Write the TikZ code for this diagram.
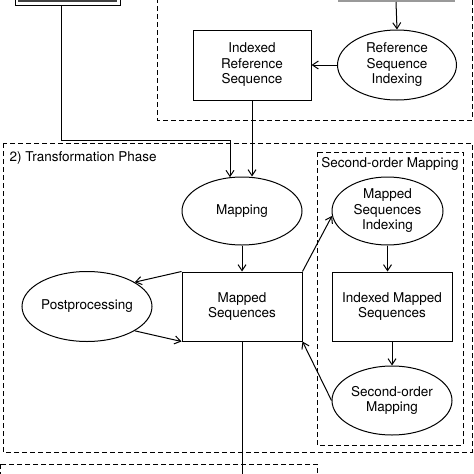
\documentclass[tikz,border=0pt]{standalone}
\usepackage{fontspec}
\setmainfont{TeX Gyre Heros}
\usetikzlibrary{shapes.geometric, arrows.meta, positioning}

\tikzset{
  proc/.style={ellipse, draw, line width=1pt, inner sep=0pt, align=center},
  data/.style={rectangle, draw, line width=1pt, inner sep=0pt, align=center},
  phase/.style={draw, line width=1pt, dash pattern=on 5pt off 3pt},
  arr/.style={line width=1pt, -{Straight Barb[length=6pt, width=8pt]}},
  link/.style={line width=1pt}
}

\begin{document}
\begin{tikzpicture}[x=1pt, y=-1pt, font=\fontsize{13.5}{15.5}\selectfont]
    \useasboundingbox (0,0) rectangle (474,474);

    % 1) phase boxes (cut by the frame)
    \draw[phase] (157,-10) rectangle (472,120);
    \draw[phase] (3,143) rectangle (472,452);
    \draw[phase] (317,152) rectangle (463,445);
    \draw[phase] (0,464) rectangle (317,490);
    \node[anchor=west] (tlabel) at (6,158) {2) Transformation Phase};
    \node (slabel) at (390,164) {Second-order Mapping};

    % inputs above the frame
    \draw[link] (15,-10) rectangle (120,5);
    \fill[black!75] (18,-10) rectangle (117,2);
    \fill[black!40] (338,-10) rectangle (455,2);
    \coordinate (readsout) at (61,5);
    \coordinate (refout) at (396,2);

    % reference indexing
    \node[proc, minimum width=119pt, minimum height=70pt] (rsi) at (397,65) {Reference\\Sequence\\Indexing};
    \node[data, minimum width=118pt, minimum height=70pt] (irs) at (252,65) {Indexed\\Reference\\Sequence};

    % transformation
    \node[proc, minimum width=120pt, minimum height=68pt] (map) at (242,211) {Mapping};
    \node[data, minimum width=120pt, minimum height=69pt] (ms) at (242,306.5) {Mapped\\Sequences};
    \node[proc, minimum width=130pt, minimum height=70pt] (post) at (87,306.5) {Postprocessing};

    % second-order mapping
    \node[proc, minimum width=111pt, minimum height=68pt] (msi) at (387.5,211) {Mapped\\Sequences\\Indexing};
    \node[data, minimum width=120pt, minimum height=69pt] (ims) at (392,306.5) {Indexed Mapped\\Sequences};
    \node[proc, minimum width=120pt, minimum height=69pt] (som) at (392,400.5) {Second-order\\Mapping};

    % connectors
    \coordinate (bend) at (230,140);
    \coordinate (outlet) at (242,480);
    \draw[arr] (refout) -- (rsi.north);
    \draw[arr] (rsi.west) -- (irs.east);
    \draw[arr] (irs.south) -- (irs.south |- map.north);
    \draw[arr] (readsout) |- (bend) -- (bend |- map.110);
    \draw[arr] (map.south) -- (ms.north);
    \draw[arr] (ms.north west) -- (post.27);
    \draw[arr] (post.-27) -- (ms.south west);
    \draw[arr] (ms.north east) -- (msi.185);
    \draw[arr] (msi.south) -- (msi.south |- ims.north);
    \draw[arr] (ims.south) -- (ims.south |- som.north);
    \draw[arr] (som.west) -- (ms.south east);
    \draw[link] (ms.south) -- (outlet);
\end{tikzpicture}
\end{document}
